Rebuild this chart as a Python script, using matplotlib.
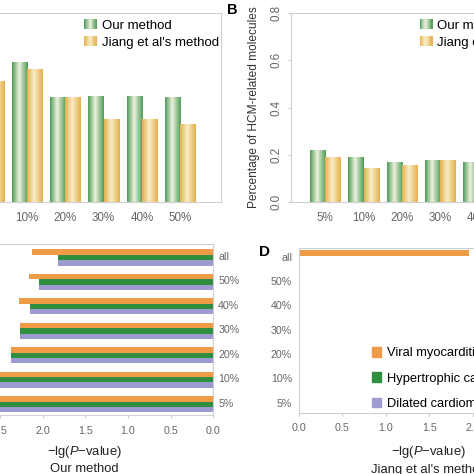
import numpy as np
import matplotlib
matplotlib.use("Agg")
import matplotlib.pyplot as plt
from matplotlib.colors import LinearSegmentedColormap
from matplotlib.patches import Patch, Rectangle
from matplotlib.legend_handler import HandlerBase

plt.rcParams['font.family'] = ['Liberation Sans', 'DejaVu Sans']
plt.rcParams['mathtext.fontset'] = 'custom'
plt.rcParams['mathtext.rm'] = 'Liberation Sans'
plt.rcParams['mathtext.it'] = 'Liberation Sans:italic'

# ---- data ----
pct_labels = ['5%', '10%', '20%', '30%', '40%', '50%']
# panel A
a_ours = [0.56, 0.593, 0.443, 0.447, 0.449, 0.444]
a_jiang = [0.512, 0.561, 0.443, 0.351, 0.351, 0.329]
# panel B
b_ours = [0.219, 0.192, 0.169, 0.178, 0.171, 0.17]
b_jiang = [0.19, 0.146, 0.157, 0.178, 0.16, 0.15]
# panels C, D  (order bottom->top)
hb_labels = ['5%', '10%', '20%', '30%', '40%', '50%', 'all']
c_viral = [2.85, 2.85, 2.375, 2.266, 2.278, 2.164, 2.125]
c_hyper = [2.85, 2.85, 2.375, 2.266, 2.152, 2.04, 1.824]
c_dilated = [2.85, 2.85, 2.375, 2.266, 2.152, 2.043, 1.824]
d_viral = [0, 0, 0, 0, 0, 0, 1.95]
d_hyper = [0, 0, 0, 0, 0, 0, 0]
d_dilated = [0, 0, 0, 0, 0, 0, 0]
disease_names = ['Viral myocarditis', 'Hypertrophic cardiomyopathy', 'Dilated cardiomyopathy']

GREEN_CM = LinearSegmentedColormap.from_list('g', [(0, '#4e9c56'), (0.45, '#eef1df'), (1, '#4e9c56')])
YELLOW_CM = LinearSegmentedColormap.from_list('y', [(0, '#e4b04a'), (0.45, '#f8ecc8'), (1, '#e4b04a')])
C_ORANGE, C_GREEN, C_PURPLE = '#ef9b48', '#2f8f3f', '#9b9bd0'
GRID = '#cfcfcf'
TICKC = '#666666'

W = 474.0


def place(l, r, t, b):
    return [l / W, 1 - b / W, (r - l) / W, (b - t) / W]


def grad_bars(ax, x, h, cmap):
    bars = ax.bar(x, h, width=0.4, color='none', edgecolor='none', zorder=2)
    grad = np.linspace(0, 1, 100).reshape(1, -1)
    for b in bars:
        x0, y0 = b.get_xy()
        im = ax.imshow(grad, cmap=cmap, extent=[x0, x0 + b.get_width(), y0, y0 + b.get_height()],
                       aspect='auto', zorder=2)
        im.set_clip_path(b)


class GradHandler(HandlerBase):
    def __init__(self, cmap):
        super().__init__()
        self.cmap = cmap

    def create_artists(self, legend, orig_handle, xdescent, ydescent, width, height, fontsize, trans):
        n = 14
        out = []
        for i in range(n):
            out.append(Rectangle((-xdescent + i * width / n, -ydescent), width / n + 0.3, height,
                                 facecolor=self.cmap((i + 0.5) / n), edgecolor='none', transform=trans))
        return out


def style_frame(ax):
    for s in ax.spines.values():
        s.set_color(GRID)
        s.set_linewidth(0.8)


fig = plt.figure(figsize=(4.74, 4.74), dpi=100)

# ---- A ----
axA = fig.add_axes(place(-45.3, 221, 12.7, 202.3))
xs = np.arange(len(pct_labels))
grad_bars(axA, xs - 0.2, a_ours, GREEN_CM)
grad_bars(axA, xs + 0.2, a_jiang, YELLOW_CM)
axA.set_xlim(-0.888, 6.065)
axA.set_ylim(0, 0.8)
axA.set_xticks(xs, pct_labels)
axA.set_yticks([])
axA.tick_params(axis='x', length=0, pad=7, labelsize=8.4, labelcolor=TICKC)
style_frame(axA)
hg, hy = Patch(), Patch()
axA.legend([hg, hy], ['Our method', "Jiang et al's method"], loc='upper left',
           bbox_to_anchor=(0.487, 0.965), frameon=False, fontsize=9.5, borderpad=0,
           borderaxespad=0, handlelength=0.95, handleheight=0.8, handletextpad=0.4,
           labelspacing=0.3,
           handler_map={hg: GradHandler(GREEN_CM), hy: GradHandler(YELLOW_CM)})

# ---- B ----
axB = fig.add_axes(place(291.3, 557.6, 12.7, 202.3))
grad_bars(axB, xs - 0.2, b_ours, GREEN_CM)
grad_bars(axB, xs + 0.2, b_jiang, YELLOW_CM)
axB.set_xlim(-0.888, 6.065)
axB.set_ylim(0, 0.8)
axB.set_xticks(xs, pct_labels)
axB.set_yticks([0, 0.2, 0.4, 0.6, 0.8], ['0.0', '0.2', '0.4', '0.6', '0.8'])
axB.tick_params(axis='x', length=0, pad=7, labelsize=8.4, labelcolor=TICKC)
axB.tick_params(axis='y', length=2.5, pad=4, labelsize=8.4, labelcolor=TICKC, color=GRID,
                labelrotation=90)
for t in axB.get_yticklabels():
    t.set_va('center')
axB.set_ylabel('Percentage of HCM-related molecules', fontsize=8.6, color='#333333')
axB.yaxis.set_label_coords(-0.119, 0.5)
style_frame(axB)
hg2, hy2 = Patch(), Patch()
axB.legend([hg2, hy2], ['Our method', "Jiang et al's method"], loc='upper left',
           bbox_to_anchor=(0.482, 0.965), frameon=False, fontsize=9.5, borderpad=0,
           borderaxespad=0, handlelength=0.95, handleheight=0.8, handletextpad=0.4,
           labelspacing=0.3,
           handler_map={hg2: GradHandler(GREEN_CM), hy2: GradHandler(YELLOW_CM)})

# ---- C & D ----
ys = np.arange(len(hb_labels))
offs = [0.16, -0.06, -0.28]
bh = 0.22
xlab = r'$\mathregular{-lg(}\mathit{P}\mathregular{-value)}$'


def hbars(ax, v1, v2, v3):
    ax.barh(ys + offs[0], v1, height=bh, color=C_ORANGE, zorder=2)
    ax.barh(ys + offs[1], v2, height=bh, color=C_GREEN, zorder=2)
    ax.barh(ys + offs[2], v3, height=bh, color=C_PURPLE, zorder=2)


axC = fig.add_axes(place(-45.3, 213.3, 244, 415))
hbars(axC, c_viral, c_hyper, c_dilated)
axC.set_xlim(3.03, 0)
axC.set_ylim(-0.5, 6.49)
axC.set_xticks(np.arange(0, 3.01, 0.5), ['%.1f' % v for v in np.arange(0, 3.01, 0.5)])
axC.set_yticks(ys, hb_labels)
axC.yaxis.tick_right()
axC.tick_params(axis='y', length=0, pad=3.6, labelsize=7.7, labelcolor=TICKC)
axC.tick_params(axis='x', length=2.5, pad=5.5, labelsize=7.7, labelcolor=TICKC, color=GRID)
axC.set_xlabel(xlab + '\nOur method', fontsize=9.4, color='#222222', labelpad=5.5, linespacing=1.4)
style_frame(axC)

axD = fig.add_axes(place(298.7, 558.7, 248, 412.7))
hbars(axD, d_viral, d_hyper, d_dilated)
axD.set_xlim(0, 2.985)
axD.set_ylim(-0.41, 6.36)
axD.set_xticks(np.arange(0, 2.51, 0.5), ['%.1f' % v for v in np.arange(0, 2.51, 0.5)])
axD.set_yticks(ys, hb_labels)
axD.tick_params(axis='y', length=0, pad=4.8, labelsize=7.7, labelcolor=TICKC)
axD.tick_params(axis='x', length=2.5, pad=5, labelsize=7.7, labelcolor=TICKC, color=GRID)
axD.set_xlabel(xlab + "\nJiang et al's method", fontsize=9.4, color='#222222', labelpad=8,
               linespacing=1.4)
style_frame(axD)
axD.legend([Patch(color=C_ORANGE), Patch(color=C_GREEN), Patch(color=C_PURPLE)], disease_names,
           loc='upper left', bbox_to_anchor=(0.282, 0.40), frameon=False, fontsize=9.3,
           borderpad=0, borderaxespad=0, handlelength=0.72, handleheight=0.8,
           handletextpad=0.45, labelspacing=1.0)

fig.text(232.7 / W, 1 - 10 / W, 'B', fontsize=10.5, fontweight='bold', ha='center', va='center')
fig.text(265 / W, 1 - 252.5 / W, 'D', fontsize=11, fontweight='bold', ha='center', va='center')

fig.savefig('out.png', dpi=100)
